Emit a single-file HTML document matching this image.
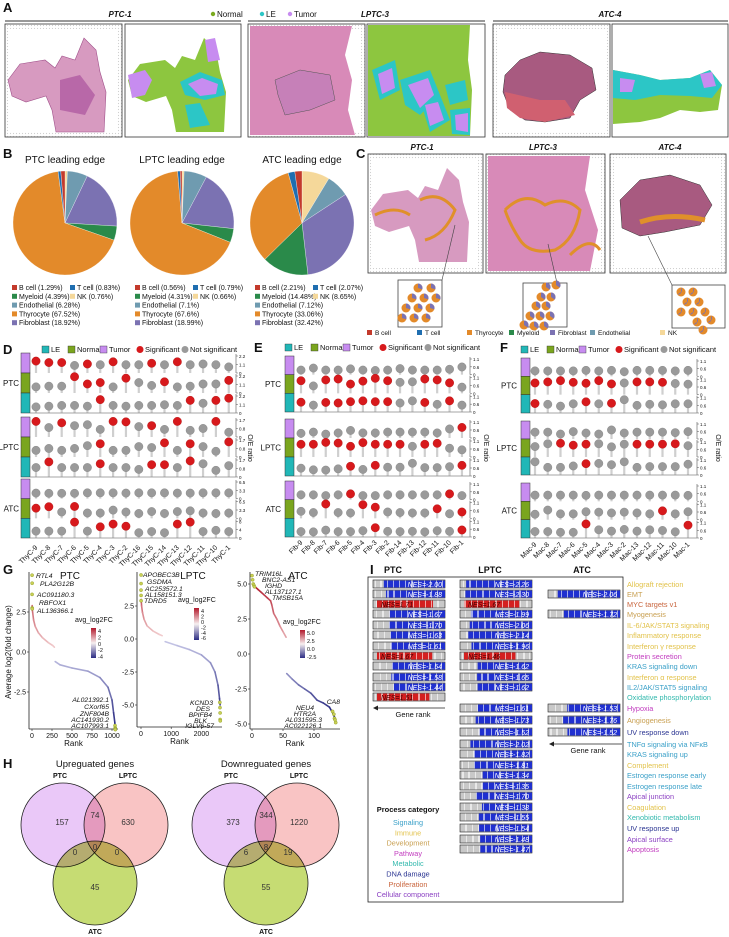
<!DOCTYPE html>
<html><head><meta charset="utf-8"><style>
html,body{margin:0;padding:0;background:#fff}
svg{display:block;font-family:"Liberation Sans",Arial,sans-serif}
</style></head><body>
<svg id="fig" xmlns="http://www.w3.org/2000/svg" width="729" height="937" viewBox="0 0 729 937">
<defs>
<pattern id="fid" width="3" height="3" patternUnits="userSpaceOnUse"><circle cx="1.5" cy="1.5" r="0.6" fill="#cfcfcf"/></pattern>
<linearGradient id="cbar" x1="0" y1="0" x2="0" y2="1"><stop offset="0" stop-color="#b2182b"/><stop offset="0.5" stop-color="#f7f0f0"/><stop offset="1" stop-color="#2c2d84"/></linearGradient>
</defs>
</svg>
<script>
// ---------- DATA ----------
const cellTypes=['B cell','T cell','Myeloid','NK','Endothelial','Thyrocyte','Fibroblast'];
const piePTC=[1.29,0.83,4.39,0.76,6.28,67.52,18.92];
const pieLPTC=[0.56,0.79,4.31,0.66,7.1,67.6,18.99];
const pieATC=[2.21,2.07,14.48,8.65,7.12,33.06,32.42];

const thycNames=['ThyC-9','ThyC-8','ThyC-7','ThyC-6','ThyC-5','ThyC-4','ThyC-3','ThyC-2','ThyC-16','ThyC-15','ThyC-14','ThyC-13','ThyC-12','ThyC-11','ThyC-10','ThyC-1'];
const dPTC=[[1.5,1.3,1.3,0.9,1.1,1.0,1.4,1.0,1.0,1.2,1.0,1.4,1.0,1.1,1.0,0.7],[0.7,0.8,0.8,2.1,1.1,1.3,0.7,1.9,1.3,0.9,1.4,0.7,0.8,1.1,1.1,1.6],[0.7,0.8,0.9,0.9,0.8,1.7,0.9,0.8,0.9,0.9,1.0,0.9,1.6,1.2,1.6,1.9]];
const dPTCsig=[[1,1,1,0,1,0,1,0,0,1,0,1,0,0,0,0],[0,0,0,1,1,1,0,1,0,0,1,0,0,0,0,1],[0,0,0,0,0,1,0,0,0,0,0,0,1,0,1,1]];
const dLPTC=[[1.55,0.9,1.4,1.1,1.2,0.7,1.55,1.5,1.0,1.1,0.7,1.55,0.6,0.8,1.55,0.4],[0.6,0.8,0.6,0.8,1.1,1.3,0.6,0.6,1.0,0.9,1.4,0.6,1.3,1.0,0.5,1.5],[0.9,1.5,0.9,0.9,0.9,1.3,0.9,0.9,0.7,1.2,1.2,0.9,1.6,1.3,0.6,1.1]];
const dLPTCsig=[[1,0,1,0,0,0,1,1,0,1,0,1,0,0,1,0],[0,0,0,0,0,1,0,0,0,0,1,0,1,0,0,1],[0,1,0,0,0,1,0,0,0,1,1,0,1,0,0,0]];
const dATC=[[1.9,1.8,1.8,1.8,2.0,2.0,2.0,1.9,2.0,2.0,2.0,1.9,1.9,2.0,2.0,2.0],[3.8,4.4,2.2,4.5,1.8,1.8,3.0,2.2,1.6,2.4,1.6,2.4,2.7,1.8,1.6,1.8],[3.0,3.0,3.0,7.6,3.0,5.2,6.6,5.5,2.2,2.8,2.2,6.6,7.6,2.8,3.4,2.8]];
const dATCsig=[[0,0,0,0,0,0,0,0,0,0,0,0,0,0,0,0],[1,1,0,1,0,0,0,0,0,0,0,0,0,0,0,0],[0,0,0,1,0,1,1,1,0,0,0,1,1,0,0,0]];

const fibNames=['Fib-9','Fib-8','Fib-7','Fib-6','Fib-5','Fib-4','Fib-3','Fib-2','Fib-14','Fib-13','Fib-12','Fib-11','Fib-10','Fib-1'];
const ePTC=[[0.27,0.42,0.27,0.27,0.36,0.27,0.24,0.27,0.38,0.27,0.27,0.27,0.33,0.5],[0.87,0.48,0.93,1.0,0.62,0.84,1.05,0.87,0.75,0.79,1.0,0.93,0.71,0.39],[0.66,0.44,0.64,0.6,0.7,0.76,0.7,0.7,0.6,0.76,0.64,0.5,0.76,0.44]];
const ePTCsig=[[0,0,0,0,0,0,0,0,0,0,0,0,0,0],[1,0,1,1,1,1,1,1,0,0,1,1,1,0],[1,0,1,1,1,1,1,1,0,0,1,0,1,0]];
const eLPTC=[[0.27,0.36,0.21,0.3,0.48,0.3,0.3,0.36,0.36,0.36,0.36,0.3,0.59,0.7],[0.86,0.86,1.0,0.95,0.71,0.98,0.86,0.86,0.86,0.71,0.86,0.93,0.57,0.45],[0.5,0.38,0.36,0.45,0.64,0.41,0.71,0.57,0.57,0.86,0.54,0.54,0.61,0.71]];
const eLPTCsig=[[0,0,0,0,0,0,0,0,0,0,0,0,0,1],[1,1,1,1,1,1,1,1,1,0,1,1,0,0],[0,0,0,0,1,0,1,0,0,0,0,0,0,1]];
const eATC=[[0.29,0.29,0.23,0.29,0.36,0.23,0.23,0.29,0.29,0.29,0.29,0.29,0.36,0.23],[0.45,0.36,1.0,0.36,0.33,0.95,0.76,0.4,0.36,0.33,0.33,0.64,0.27,0.4],[0.33,0.31,0.44,0.33,0.33,0.4,0.62,0.35,0.33,0.35,0.31,0.4,0.35,0.45]];
const eATCsig=[[0,0,0,0,1,0,0,0,0,0,0,0,1,0],[0,0,1,0,0,1,1,0,0,0,0,1,0,1],[0,0,0,0,0,0,1,0,0,0,0,0,0,1]];

const macNames=['Mac-9','Mac-8','Mac-7','Mac-6','Mac-5','Mac-4','Mac-3','Mac-2','Mac-13','Mac-12','Mac-11','Mac-10','Mac-1'];
const fPTC=[[0.34,0.34,0.34,0.34,0.38,0.34,0.38,0.28,0.38,0.38,0.38,0.34,0.38],[0.82,0.9,1.0,0.87,0.8,1.0,0.75,0.82,0.9,0.9,0.87,0.78,0.73],[0.65,0.59,0.45,0.63,0.78,0.63,0.67,0.94,0.51,0.59,0.55,0.63,0.63]];
const fPTCsig=[[0,0,0,0,0,0,0,0,0,0,0,0,0],[1,1,1,1,1,1,1,0,1,1,1,0,0],[1,0,0,0,1,0,1,0,0,0,0,0,0]];
const fLPTC=[[0.46,0.46,0.31,0.5,0.39,0.31,0.63,0.39,0.46,0.46,0.46,0.42,0.5],[0.74,0.96,1.0,0.85,0.93,0.96,0.72,0.93,0.93,0.93,0.93,0.96,0.81],[0.96,0.52,0.52,0.63,0.81,0.83,0.73,0.96,0.52,0.58,0.58,0.58,0.77]];
const fLPTCsig=[[0,0,0,0,0,0,0,0,0,0,0,0,0],[0,0,1,1,1,0,0,0,1,1,1,1,0],[0,0,0,0,1,0,0,0,0,0,0,0,0]];
const fATC=[[0.4,0.4,0.4,0.4,0.38,0.4,0.4,0.4,0.4,0.4,0.4,0.4,0.38],[0.34,0.66,0.37,0.37,0.53,0.5,0.44,0.5,0.44,0.37,0.6,0.37,0.53],[0.42,0.42,0.36,0.36,1.0,0.55,0.45,0.58,0.45,0.55,0.5,0.4,0.91]];
const fATCsig=[[0,0,0,0,0,0,0,0,0,0,0,0,0],[0,0,0,0,0,0,0,0,0,0,1,0,0],[0,0,0,0,1,0,0,0,0,0,0,0,1]];

const gPTCrank=[2,5,10,20,40,80,130,200,260,280,290,350,500,700,850,950,1000,1020,1035,1040];
const gPTCval=[2.9,2.6,2.4,2.0,1.6,1.2,0.9,0.6,0.4,0.3,-0.6,-0.8,-1.0,-1.2,-1.6,-2.2,-3.0,-3.8,-4.4,-4.7];
const gLPTCrank=[5,20,50,100,200,400,600,700,800,1200,1600,2000,2300,2450,2550,2600,2620];
const gLPTCval=[3.0,2.5,2.0,1.5,1.0,0.6,0.35,0.25,-0.2,-0.5,-0.8,-1.2,-1.8,-2.5,-3.5,-4.5,-5.0];
const gATCrank=[3,5,10,15,20,25,30,32,35,40,45,50,55,56,65,75,85,95,105,115,125,130,133,135];
const gATCval=[5.0,4.8,4.6,4.4,4.2,4.0,3.8,3.5,2.9,2.5,2.0,1.6,1.2,-1.4,-1.8,-2.2,-2.5,-2.8,-3.3,-3.5,-3.8,-4.2,-4.5,-4.8];

const vennUp=[157,74,630,0,0,0,45];
const vennDown=[373,344,1220,6,8,19,55];

const gseaRows=['Allograft rejection','EMT','MYC targets v1','Myogenesis','IL-6/JAK/STAT3 signaling','Inflammatory response','Interferon γ response','Protein secretion','KRAS signaling down','Interferon α response','IL2/JAK/STAT5 signaling','Oxidative phosphorylation','Hypoxia','Angiogenesis','UV response down','TNFα signaling via NFκB','KRAS signaling up','Complement','Estrogen response early','Estrogen response late','Apical junction','Coagulation','Xenobiotic metabolism','UV response up','Apical surface','Apoptosis'];
const gseaCat=['Immune','Development','Proliferation','Development','Immune','Immune','Immune','Pathway','Signaling','Immune','Signaling','Metabolic','Pathway','Development','DNA damage','Signaling','Signaling','Immune','Signaling','Signaling','Cellular component','Immune','Metabolic','DNA damage','Cellular component','Pathway'];
const nesPTC=[-2.00,-1.88,1.71,-1.67,-1.70,-1.63,-1.61,1.67,-1.54,-1.58,-1.44,1.51,null,null,null,null,null,null,null,null,null,null,null,null,null,null];
const nesLPTC=[-2.26,-2.30,1.67,-1.99,-2.06,-2.14,-1.96,1.46,-1.62,-1.65,-1.62,null,-1.61,-1.73,-1.52,-2.02,-1.82,-1.81,-1.34,-1.35,-1.70,-1.38,-1.55,-1.54,-1.48,-1.47];
const nesATC=[null,-2.06,null,-1.72,null,null,null,null,null,null,null,null,-1.53,-1.76,-1.52,null,null,null,null,null,null,null,null,null,null,null];
const catNames=['Signaling','Immune','Development','Pathway','Metabolic','DNA damage','Proliferation','Cellular component'];
const catColors=['#3aa0c8','#e2c24a','#c9a052','#c23cbf','#33b9ad','#2b3592','#c8643c','#8a3fc2'];

// ---------- HELPERS ----------
const NS='http://www.w3.org/2000/svg';
const S=document.getElementById('fig');
function mk(tag,a,p){const e=document.createElementNS(NS,tag);for(const k in a)e.setAttribute(k,a[k]);(p||S).appendChild(e);return e;}
function tx(x,y,s,a,p){const e=mk('text',Object.assign({x:x,y:y,'font-size':8,fill:'#111'},a||{}),p);e.textContent=s;return e;}
function grp(p){return mk('g',{},p);}
const cellColors=['#c33a2c','#1f6eb0','#2a8a4a','#f5d89a','#6f9bb0','#e38a2a','#7b72b2'];
const pieOrder=[3,4,6,2,5,1,0];

[['A',3,12],['B',3,158],['C',356,158],['D',3,354],['E',254,352],['F',500,352],['G',3,574],['H',3,768],['I',370,574]].forEach(l=>{
  const t=tx(l[1],l[2],l[0],{'font-size':13,'font-weight':'bold'});
  
  
});

// ---------- PANEL A ----------
const gA=grp();


[['PTC-1',120,5,241],['LPTC-3',375,248,485],['ATC-4',610,493,728]].forEach(h=>{
  tx(h[1],17,h[0],{'font-size':8,'font-weight':'bold','font-style':'italic','text-anchor':'middle'},gA);
  mk('line',{x1:h[2],x2:h[3],y1:21,y2:21,stroke:'#999','stroke-width':2},gA);
});
[['#7aaa1e','Normal',213],['#2cc6c6','LE',262],['#c78cf0','Tumor',290]].forEach(l=>{
  mk('circle',{cx:l[2],cy:14,r:2.2,fill:l[0]},gA);tx(l[2]+4,17,l[1],{'font-size':8},gA);
});
function box(x,y,w,h,p,fid){mk('rect',{x:x,y:y,width:w,height:h,fill:fid?'url(#fid)':'#fff',stroke:'#333','stroke-width':0.8},p);if(fid)mk('rect',{x:x+5,y:y+5,width:w-10,height:h-10,fill:'#fff'},p);}
function poly(pts,dx,dy,fill,p,extra){return mk('polygon',Object.assign({points:pts.map((v,i)=>i%2?v+dy:v+dx).join(' '),fill:fill},extra||{}),p);}
const ptcShape=[8,80,20,64,45,60,55,68,62,56,75,60,84,38,96,50,100,72,106,92,104,132,56,132,52,110,46,96,26,102,12,96];
box(5,24,117,113,gA,true);poly(ptcShape,0,0,'#d79ac0',gA,{stroke:'#a0508a','stroke-width':0.6});
poly([60,80,80,75,95,95,85,115,60,110],0,0,'#b868a8',gA);
box(125,24,116,113,gA,false);poly(ptcShape,120,0,'#8dc63f',gA);
poly([128,75,145,70,152,80,145,95,132,98],0,0,'#c78cf0',gA);poly([205,40,215,38,220,60,208,62],0,0,'#c78cf0',gA);
poly([180,82,200,72,222,80,225,95,205,100,185,95],0,0,'#2cc6c6',gA);poly([188,84,202,78,218,84,216,94,200,96],0,0,'#c78cf0',gA);
poly([185,105,200,103,210,125,190,128],0,0,'#2cc6c6',gA);
box(248,24,117,113,gA,true);poly([250,26,352,26,345,55,352,80,348,110,355,135,250,135],0,0,'#d88ab8',gA);
poly([275,80,300,70,330,75,335,100,310,110,285,115,278,95],0,0,'#c680b8',gA,{stroke:'#555','stroke-width':0.5});
box(367,24,118,113,gA,false);poly([368,25,470,25,468,60,472,90,470,136,368,136],0,0,'#8dc63f',gA);
[[372,70,395,60,400,90,380,100],[400,80,430,70,440,95,420,115,405,105],[420,100,440,95,450,120,430,132],[445,85,465,80,468,100,450,105],[450,110,470,108,470,135,452,134]].forEach(p=>{poly(p,0,0,'#2cc6c6',gA);});
[[378,74,392,68,395,88,382,94],[408,85,428,78,434,95,420,108],[425,105,438,102,444,120,430,126],[455,115,468,113,468,132,456,130]].forEach(p=>{poly(p,0,0,'#c78cf0',gA);});
box(493,24,117,113,gA,true);poly([505,75,520,60,540,52,570,55,592,68,596,90,580,100,570,118,545,122,525,120,510,110,503,92],0,0,'#a85a80',gA,{stroke:'#333','stroke-width':0.5});
poly([505,92,540,100,565,100,575,115,545,122,520,118,507,108],0,0,'#d06070',gA);
box(612,24,116,113,gA,false);poly([613,70,640,75,660,80,690,78,710,70,722,85,718,110,700,112,680,110,660,118,640,122,613,124],0,0,'#8dc63f',gA);
poly([613,70,640,75,660,80,690,78,710,70,722,85,712,98,690,96,660,95,635,100,613,98],0,0,'#2cc6c6',gA);
poly([620,78,635,80,632,92,620,92],0,0,'#c78cf0',gA);poly([700,74,712,72,716,86,704,88],0,0,'#c78cf0',gA);

// ---------- PANEL B ----------
function drawPie(cx,cy,r,vals,title,lx){
  const g=grp();
  
  
  tx(cx,163,title,{'font-size':10,'text-anchor':'middle'},g);
  const tot=vals.reduce((a,b)=>a+b,0);let a0=-Math.PI/2;
  pieOrder.forEach(i=>{
    const a1=a0+vals[i]/tot*2*Math.PI;
    const large=(a1-a0)>Math.PI?1:0;
    const p=mk('path',{d:`M${cx},${cy}L${cx+r*Math.cos(a0)},${cy+r*Math.sin(a0)}A${r},${r} 0 ${large} 1 ${cx+r*Math.cos(a1)},${cy+r*Math.sin(a1)}Z`,fill:cellColors[i],stroke:'#fff','stroke-width':0.3},g);
    
    
    a0=a1;
  });
  const leg=[[0,0,0],[1,1,0],[2,0,1],[3,1,1],[4,0,2],[5,0,3],[6,0,4]];
  leg.forEach(l=>{
    const x=lx+(l[1]?58:0),y=290+l[2]*8.8;
    mk('rect',{x:x,y:y-5,width:5,height:5,fill:cellColors[l[0]]},g);
    tx(x+7,y,cellTypes[l[0]]+' ('+vals[l[0]]+'%)',{'font-size':7},g);
  });
}
drawPie(65,223,52,piePTC,'PTC leading edge',12);
drawPie(182,223,52,pieLPTC,'LPTC leading edge',135);
drawPie(302,223,52,pieATC,'ATC leading edge',255);

// ---------- PANEL C ----------
const gC=grp();


[['PTC-1',422],['LPTC-3',543],['ATC-4',670]].forEach(t=>tx(t[1],150,t[0],{'font-size':8,'font-weight':'bold','font-style':'italic','text-anchor':'middle'},gC));
box(368,154,115,119,gC,true);poly(ptcShape,363,130,'#d79ac0',gC);
mk('path',{d:'M375,215 Q395,205 410,215 M420,200 Q440,190 455,210 Q445,235 425,240',fill:'none',stroke:'#e0902a','stroke-width':3},gC);
box(486,154,119,119,gC,true);poly([488,156,590,156,585,190,598,230,590,271,488,271],0,0,'#d88ab8',gC);
mk('path',{d:'M505,210 Q525,190 545,205 Q565,195 580,210 Q575,240 555,250 Q530,255 520,240 Q510,225 505,210 M570,255 Q590,235 600,250',fill:'none',stroke:'#e0902a','stroke-width':3},gC);
box(610,154,116,119,gC,true);poly([620,200,640,180,670,175,700,185,712,205,700,225,665,232,640,236,622,228],0,0,'#a85a80',gC,{stroke:'#333','stroke-width':0.5});
mk('path',{d:'M640,222 Q670,212 705,220',fill:'none',stroke:'#e0902a','stroke-width':5},gC);
[[398,280,44,47],[523,283,44,44],[672,285,53,43]].forEach(b=>mk('rect',{x:b[0],y:b[1],width:b[2],height:b[3],fill:'none',stroke:'#444','stroke-width':0.8},gC));
mk('line',{x1:442,y1:280,x2:455,y2:225,stroke:'#444','stroke-width':0.6},gC);
mk('line',{x1:557,y1:283,x2:548,y2:244,stroke:'#444','stroke-width':0.6},gC);
mk('line',{x1:672,y1:285,x2:648,y2:236,stroke:'#444','stroke-width':0.6},gC);
function miniPie(cx,cy,fr){mk('circle',{cx:cx,cy:cy,r:4.5,fill:'#e38a2a'},gC);mk('path',{d:`M${cx},${cy}L${cx},${cy-4.5}A4.5,4.5 0 0 1 ${cx+4.5*Math.sin(fr*6.28)},${cy-4.5*Math.cos(fr*6.28)}Z`,fill:'#7b72b2'},gC);}
[[418,288],[431,288],[412,298],[424,298],[436,298],[406,308],[418,308],[430,308],[402,318],[414,318],[426,318]].forEach(p=>miniPie(p[0],p[1],0.3));
[[546,287],[556,285],[541,297],[551,297],[536,306],[546,306],[530,316],[540,316],[550,316],[524,325],[534,326],[544,326]].forEach(p=>miniPie(p[0],p[1],0.35));
[[681,292],[693,292],[687,302],[699,302],[681,312],[693,312],[705,312],[711,320],[697,322],[703,330]].forEach(p=>miniPie(p[0],p[1],0.65));
[[0,367,'B cell'],[1,417,'T cell'],[5,467,'Thyrocyte'],[2,509,'Myeloid'],[6,550,'Fibroblast'],[4,590,'Endothelial'],[3,660,'NK']].forEach(l=>{
  mk('rect',{x:l[1],y:330,width:5,height:5,fill:cellColors[l[0]]},gC);tx(l[1]+8,335,l[2],{'font-size':6.5},gC);
});

// ---------- PANELS D/E/F ----------
const stripCols=['#c78cf0','#7aa51e','#21b7b7'];
function lolli(name,names,groups,cfg){
  const g=grp();
  
  
  const L=cfg.leg;
  [[stripCols[2],'LE',0],[stripCols[1],'Normal',1],[stripCols[0],'Tumor',2]].forEach((l,i)=>{
    const x=L[0]+[0,26,58][i];mk('rect',{x:x,y:L[1]-6,width:7,height:7,fill:l[0],stroke:'#333','stroke-width':0.4},g);tx(x+9,L[1],l[1],{'font-size':7.5},g);
  });
  mk('circle',{cx:L[0]+98,cy:L[1]-2.5,r:3.5,fill:'#d7191c'},g);tx(L[0]+103,L[1],'Significant',{'font-size':7.5},g);
  mk('circle',{cx:L[0]+143,cy:L[1]-2.5,r:3.5,fill:'#9a9a9a'},g);tx(L[0]+148,L[1],'Not significant',{'font-size':7.5},g);
  const xAt=i=>cfg.x0+i*cfg.step;
  groups.forEach((G,gi)=>{
    const top=cfg.rows[gi][0],bot=cfg.rows[gi][1],h=(bot-top)/3;
    tx(cfg.labX,(top+bot)/2+3,G.label,{'font-size':8,'text-anchor':'end'},g);
    for(let s=0;s<3;s++){
      const y0=top+s*h,yb=y0+h;
      mk('rect',{x:cfg.sx,y:y0,width:9,height:h,fill:stripCols[s],stroke:'#333','stroke-width':0.5},g);
      mk('line',{x1:cfg.axX,x2:cfg.axX,y1:y0+1,y2:yb,stroke:'#333','stroke-width':0.5},g);
      for(let t=0;t<=2;t++){const ty=yb-t*(h-3)/2;mk('line',{x1:cfg.axX,x2:cfg.axX+2,y1:ty,y2:ty,stroke:'#333','stroke-width':0.4},g);
        tx(cfg.axX+3,ty+2,String(+(t*G.max[s]/2).toFixed(1)),{'font-size':4.5},g);}
      G.vals[s].forEach((v,i)=>{
        const yv=yb-Math.min(v/G.max[s],1.05)*(h-4)-1;
        mk('line',{x1:xAt(i),x2:xAt(i),y1:yb,y2:yv,stroke:'#cfcfcf','stroke-width':2.2},g);
        const c=mk('circle',{cx:xAt(i),cy:yv,r:4.2,fill:G.sig[s][i]?'#d7191c':'#9a9a9a',stroke:G.sig[s][i]?'#b01010':'#808080','stroke-width':0.4},g);
        
        
      });
    }
    if(cfg.baseline)mk('line',{x1:cfg.sx+9,x2:cfg.axX,y1:bot,y2:bot,stroke:'#888','stroke-width':0.8},g);
  });
  names.forEach((n,i)=>tx(xAt(i)+2,cfg.labY,n,{'font-size':7,'text-anchor':'end',transform:`rotate(-45 ${xAt(i)+2} ${cfg.labY})`},g));
  tx(cfg.oeX,448,'O/E ratio',{'font-size':7,'text-anchor':'middle',transform:`rotate(90 ${cfg.oeX} 448)`},g);
}
lolli('panel-d-thyrocyte-lollipop',thycNames,[
  {label:'PTC',vals:dPTC,sig:dPTCsig,max:[2.2,2.2,2.2]},
  {label:'LPTC',vals:dLPTC,sig:dLPTCsig,max:[1.7,1.7,1.7]},
  {label:'ATC',vals:dATC,sig:dATCsig,max:[6.5,6.5,8]}],
  {leg:[42,352],rows:[[353,413],[417,477],[479,538]],sx:21,x0:36,step:12.85,axX:236,labX:19,labY:548,oeX:248,baseline:true});
lolli('panel-e-fibroblast-lollipop',fibNames,[
  {label:'PTC',vals:ePTC,sig:ePTCsig,max:[1.1,1.1,1.1]},
  {label:'LPTC',vals:eLPTC,sig:eLPTCsig,max:[1.1,1.1,1.1]},
  {label:'ATC',vals:eATC,sig:eATCsig,max:[1.1,1.1,1.1]}],
  {leg:[285,350],rows:[[356,412],[419,476],[481,537]],sx:285,x0:301,step:12.38,axX:470,labX:281,labY:543,oeX:484,baseline:true});
lolli('panel-f-macrophage-lollipop',macNames,[
  {label:'PTC',vals:fPTC,sig:fPTCsig,max:[1.1,1.1,1.1]},
  {label:'LPTC',vals:fLPTC,sig:fLPTCsig,max:[1.1,1.1,1.1]},
  {label:'ATC',vals:fATC,sig:fATCsig,max:[1.1,1.1,1.1]}],
  {leg:[521,352],rows:[[358,413],[421,475],[483,538]],sx:521,x0:535,step:12.75,axX:697,labX:517,labY:545,oeX:716,baseline:true});

// ---------- PANEL G ----------
function fcColor(v,maxPos,maxNeg){
  const lerp=(a,b,t)=>Math.round(a+(b-a)*t);
  if(v>=0){const t=Math.min(v/maxPos,1);return `rgb(${lerp(245,178,t)},${lerp(215,24,t)},${lerp(215,43,t)})`;}
  const t=Math.min(-v/maxNeg,1);return `rgb(${lerp(205,44,t)},${lerp(205,45,t)},${lerp(235,132,t)})`;
}
function volcano(name,cfg,ranks,vals){
  const g=grp();
  
  
  const X=r=>cfg.x0+r*cfg.kx, Y=v=>cfg.y0-v*cfg.ky;
  tx(cfg.titleX,579,cfg.title,{'font-size':10,'text-anchor':'middle'},g);
  mk('line',{x1:cfg.ax,x2:cfg.ax,y1:572,y2:cfg.bot,stroke:'#222','stroke-width':0.8},g);
  mk('line',{x1:cfg.ax,x2:cfg.right,y1:cfg.bot,y2:cfg.bot,stroke:'#222','stroke-width':0.8},g);
  cfg.yt.forEach(v=>{mk('line',{x1:cfg.ax-2,x2:cfg.ax,y1:Y(v),y2:Y(v),stroke:'#222','stroke-width':0.6},g);tx(cfg.ax-3,Y(v)+2.5,v.toFixed(1),{'font-size':7,'text-anchor':'end'},g);});
  cfg.xt.forEach(v=>{mk('line',{x1:X(v),x2:X(v),y1:cfg.bot,y2:cfg.bot+2,stroke:'#222','stroke-width':0.6},g);tx(X(v),cfg.bot+9,String(v),{'font-size':7,'text-anchor':'middle'},g);});
  tx((cfg.ax+cfg.right)/2,cfg.bot+17,'Rank',{'font-size':8,'text-anchor':'middle'},g);
  for(let i=1;i<ranks.length;i++){
    if((vals[i]>=0)!==(vals[i-1]>=0))continue;
    const s=mk('line',{x1:X(ranks[i-1]),y1:Y(vals[i-1]),x2:X(ranks[i]),y2:Y(vals[i]),stroke:fcColor((vals[i]+vals[i-1])/2,cfg.cp,cfg.cn),'stroke-width':1.6,'stroke-linecap':'round'},g);
    
    
  }
  cfg.top.forEach(t=>{mk('circle',{cx:X(t[2]),cy:Y(t[3]),r:1.6,fill:'#c9cf55',stroke:'#8a9a20','stroke-width':0.4},g);tx(t[0],t[1],t[4],{'font-size':6.8,'font-style':'italic'},g);});
  cfg.bots.forEach(t=>{mk('circle',{cx:X(t[2]),cy:Y(t[3]),r:1.6,fill:'#c9cf55',stroke:'#8a9a20','stroke-width':0.4},g);tx(t[0],t[1],t[4],{'font-size':6.8,'font-style':'italic','text-anchor':'end'},g);});
  const c=cfg.cb;tx(c[0],c[1],'avg_log2FC',{'font-size':7},g);
  mk('rect',{x:c[2],y:c[1]+6,width:5,height:c[3],fill:'url(#cbar)'},g);
  c[4].forEach((l,i)=>tx(c[2]+7,c[1]+11+i*c[3]/(c[4].length-1)*0.85,l,{'font-size':5.5},g));
}
tx(11,652,'Average log2(fold change)',{'font-size':8,'text-anchor':'middle',transform:'rotate(-90 11 652)'});
volcano('panel-g-ptc',{title:'PTC',titleX:70,x0:32,kx:0.08,y0:652,ky:16,ax:29,right:118,bot:729,yt:[2.5,0,-2.5],xt:[0,250,500,750,1000],cp:4.5,cn:4.5,
  top:[[36,578,1,4.8,'RTL4'],[40,586,2,4.3,'PLA2G12B'],[37,597,1,3.6,'AC091180.3'],[39,605,2,2.75,'RBFOX1'],[37,613,3,2.7,'AL136366.1']],
  bots:[[109,702,1038,-4.6,'AL021392.1'],[109,709,1040,-4.75,'CXorf65'],[109,716,1040,-4.8,'ZNF804B'],[109,722,1040,-4.8,'AC141930.2'],[109,728,1041,-4.85,'AC107993.1']],
  cb:[75,622,91,30,['4','2','0','-2','-4']]},gPTCrank,gPTCval);
volcano('panel-g-lptc',{title:'LPTC',titleX:193,x0:141,kx:0.0302,y0:639,ky:13.2,ax:137,right:222,bot:727,yt:[2.5,0,-2.5,-5],xt:[0,1000,2000],cp:4.5,cn:5.5,
  top:[[143,577,1,4.85,'APOBEC3B'],[147,584,2,4.2,'GSDMA'],[145,591,1,3.7,'AC253572.1'],[145,597,2,3.3,'AL158151.3'],[144,603,3,2.9,'TDRD5']],
  bots:[[213,705,2610,-4.8,'KCND3'],[210,711,2615,-5.2,'DES'],[212,717,2620,-5.6,'BPIFB4'],[207,723,2620,-6.1,'BLK'],[214,728,2625,-6.2,'IGLV6-57']],
  cb:[178,602,194,32,['4','2','0','-2','-4','-6']]},gLPTCrank,gLPTCval);
volcano('panel-g-atc',{title:'ATC',titleX:298,x0:252,kx:0.62,y0:654,ky:14,ax:250,right:340,bot:729,yt:[5,2.5,0,-2.5,-5],xt:[0,50,100],cp:5,cn:4,
  top:[[255,576,0,5.6,'TRIM16L'],[262,582,1,5.3,'BNC2-AS1'],[265,588,2,5.0,'IGHD'],[265,594,3,4.9,'AL137127.1'],[272,600,4,4.8,'TMSB15A']],
  bots:[[340,704,130,-4.1,'CA8'],[314,710,132,-4.3,'NEU4'],[316,716,133,-4.6,'HTR2A'],[322,722,134,-4.7,'AL031595.3'],[322,728,135,-4.9,'AC022126.1']],
  cb:[283,624,300,28,['5.0','2.5','0.0','-2.5']]},gATCrank,gATCval);

// ---------- PANEL H ----------
function venn(name,title,cx,nums){
  const g=grp();
  
  
  tx(cx,767,title,{'font-size':9.5,'text-anchor':'middle'},g);
  tx(cx-35,778,'PTC',{'font-size':7,'font-weight':'bold','text-anchor':'middle'},g);
  tx(cx+33,778,'LPTC',{'font-size':7,'font-weight':'bold','text-anchor':'middle'},g);
  tx(cx,934,'ATC',{'font-size':7,'font-weight':'bold','text-anchor':'middle'},g);
  [[cx-32,825,'#e3b5f5'],[cx+31,825,'#f7b0b0'],[cx,883,'#bcd65a']].forEach((c,i)=>{
    const e=mk('circle',{cx:c[0],cy:c[1],r:42,fill:c[2],'fill-opacity':i==2?0.85:0.75,stroke:'#222','stroke-width':0.8,style:'mix-blend-mode:multiply'},g);
    
    
  });
  const pos=[[cx-33,822],[cx,815],[cx+33,822],[cx-20,852],[cx,847],[cx+22,852],[cx,887]];
  nums.forEach((n,i)=>tx(pos[i][0],pos[i][1]+3,String(n),{'font-size':8,'text-anchor':'middle','fill':'#333'},g));
}
venn('venn-upregulated','Upreguated genes',95,vennUp);
venn('venn-downregulated','Downreguated genes',266,vennDown);

// ---------- PANEL I ----------
const gI=grp();


[['PTC',393],['LPTC',490],['ATC',582]].forEach(h=>tx(h[1],573,h[0],{'font-size':9,'font-weight':'bold','text-anchor':'middle'},gI));
mk('rect',{x:368,y:577,width:255,height:325,fill:'none',stroke:'#222','stroke-width':0.8},gI);
const rowY=[584,594,604,614,625,635,646,656,666,677,687,697,708,720,732,744,754,765,775,786,796,807,817,828,839,849];
function gseaBar(x,y,nes,seed){
  const w=72,pos=nes>0;
  mk('rect',{x:x,y:y-4,width:w,height:8,fill:'#c8c8c8',stroke:'#222','stroke-width':0.6},gI);
  const frac=Math.min(Math.abs(nes)/2.4,1);
  const dw=w*(0.35+0.6*frac);
  const bx=pos?x+4:x+w-dw;
  mk('rect',{x:bx,y:y-3.5,width:dw,height:7,fill:pos?'#d42020':'#2030d0'},gI);
  for(let k=0;k<14;k++){const xx=x+2+((k*37+seed*13)%68);mk('rect',{x:xx,y:y-3.5,width:1,height:7,fill:'#fff','fill-opacity':0.6},gI);}
  tx(pos?x+8:x+w-3,y+3,'NES='+nes.toFixed(2),{'font-size':7,'font-style':'italic',fill:pos?'#400':'#fff','text-anchor':pos?'start':'end'},gI);
}
gseaRows.forEach((r,i)=>{
  const y=rowY[i];
  if(nesPTC[i]!==null)gseaBar(373,y,nesPTC[i],i);
  if(nesLPTC[i]!==null)gseaBar(460,y,nesLPTC[i],i+3);
  if(nesATC[i]!==null)gseaBar(548,y,nesATC[i],i+7);
  const t=tx(627,y+3,r,{'font-size':7.3,fill:catColors[catNames.indexOf(gseaCat[i])]},gI);
  
  
});
mk('line',{x1:375,x2:445,y1:708,y2:708,stroke:'#222','stroke-width':0.8},gI);
mk('path',{d:'M373,708 l5,-2.5 v5z',fill:'#222'},gI);tx(413,717,'Gene rank',{'font-size':7.5,'text-anchor':'middle'},gI);
mk('line',{x1:551,x2:622,y1:744,y2:744,stroke:'#222','stroke-width':0.8},gI);
mk('path',{d:'M549,744 l5,-2.5 v5z',fill:'#222'},gI);tx(588,753,'Gene rank',{'font-size':7.5,'text-anchor':'middle'},gI);
tx(408,812,'Process category',{'font-size':7.5,'font-weight':'bold','text-anchor':'middle'},gI);
catNames.forEach((c,i)=>tx(408,825+i*10.3,c,{'font-size':7.3,fill:catColors[i],'text-anchor':'middle'},gI));
</script>
</body></html>
